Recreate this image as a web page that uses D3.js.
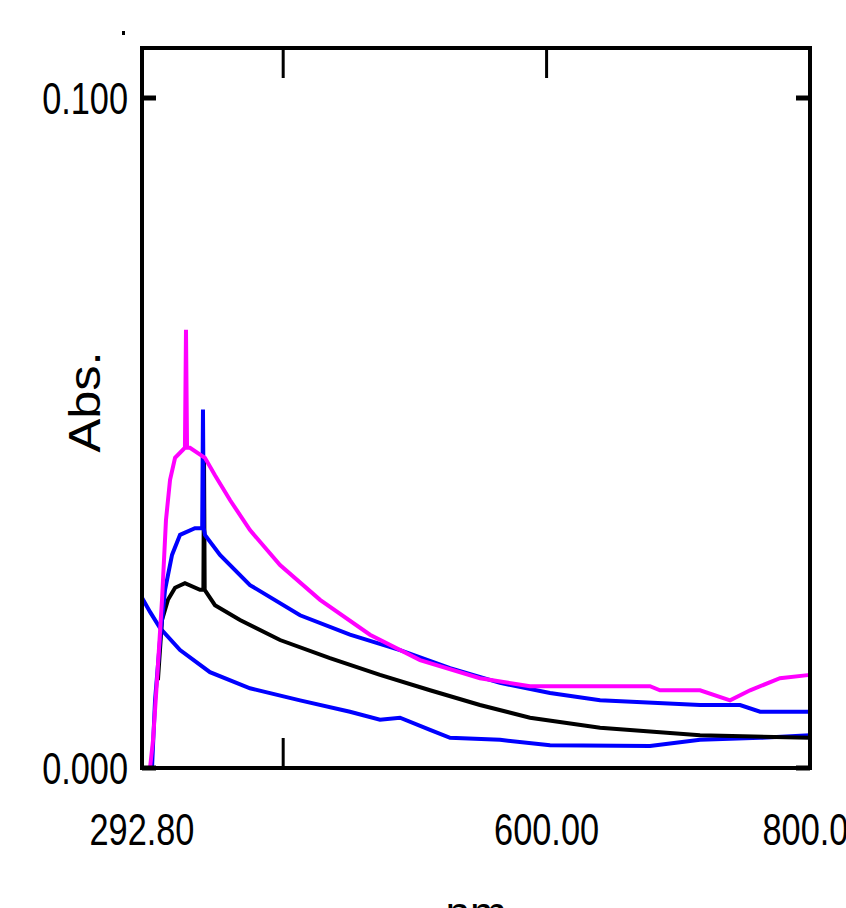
<!DOCTYPE html>
<html><head><meta charset="utf-8">
<script src="https://cdn.jsdelivr.net/npm/d3@7"></script>
<style>body{margin:0;background:#fff}text{font-family:"Liberation Sans",Arial,sans-serif}</style>
</head><body><div id="chart"></div>
<script>
var magentaNm = [298.9,301.2,304.2,308.0,311.0,314.1,317.9,323.9,325.4,326.2,327.0,329.2,340.6,348.2,359.6,374.8,397.6,428.0,465.9,503.9,549.4,587.4,640.6,678.5,686.1,716.5,739.3,754.5,777.2,800];
var magentaAbs = [0,.0042,.0131,.0251,.0370,.0430,.0463,.0475,.0478,.0654,.0478,.0478,.0463,.0437,.0400,.0355,.0303,.0251,.0199,.0161,.0134,.0122,.0122,.0122,.0116,.0116,.0101,.0116,.0134,.0139];
var blue1Nm = [300.4,302.7,306.5,310.3,315.6,321.7,333.0,338.5,339.1,339.7,340.6,352.0,374.8,412.8,450.7,488.7,526.7,564.6,602.6,640.6,716.5,746.9,762.1,800];
var blue1Abs = [0,.0101,.0191,.0266,.0318,.0348,.0358,.0358,.0535,.0358,.0348,.0318,.0273,.0228,.0199,.0176,.0149,.0127,.0112,.0101,.0094,.0094,.0084,.0084];
var blackNm = [304.9,308.0,312.5,317.9,325.4,336.8,339.4,339.9,340.4,348.2,367.2,397.6,435.5,473.5,511.5,549.4,587.4,640.6,716.5,800];
var blackAbs = [.0131,.0221,.0251,.0269,.0276,.0266,.0266,.0457,.0266,.0243,.0221,.0191,.0164,.0139,.0116,.0094,.0075,.0060,.0049,.0045];
var blue2Nm = [292.8,298.9,306.5,321.7,344.4,374.8,412.8,450.7,473.5,488.7,511.5,526.7,564.6,602.6,678.5,716.5,762.1,800];
var blue2Abs = [.0254,.0233,.0209,.0176,.0143,.0119,.0101,.0084,.0072,.0075,.0057,.0045,.0042,.0034,.0033,.0042,.0045,.0049];
var xTicks = [292.8, 600, 800];
var yTicks = [0, 0.1];

var W = 846, H = 908;
var svg = d3.select('#chart').append('svg').attr('width', W).attr('height', H);
var x = d3.scaleLinear().domain([292.8, 800]).range([142, 810]);
var y = d3.scaleLinear().domain([0, 0.1]).range([768, 98]);

var series = [
  {nm: blue2Nm, abs: blue2Abs, color: '#0000ff'},
  {nm: blackNm, abs: blackAbs, color: '#000000'},
  {nm: blue1Nm, abs: blue1Abs, color: '#0000ff'},
  {nm: magentaNm, abs: magentaAbs, color: '#ff00ff'}
];
var line = d3.line().x(d => x(d[0])).y(d => y(d[1]));
series.forEach(function(s) {
  svg.append('path')
    .datum(s.nm.map((v, i) => [v, s.abs[i]]))
    .attr('d', line)
    .attr('fill', 'none')
    .attr('stroke', s.color)
    .attr('stroke-width', 4);
});

// frame
svg.append('rect').attr('x', 142).attr('y', 48).attr('width', 668).attr('height', 720)
  .attr('fill', 'none').attr('stroke', '#000').attr('stroke-width', 4);

// inner ticks
[400, 600].forEach(function(v) {
  svg.append('line').attr('x1', x(v)).attr('x2', x(v)).attr('y1', 48).attr('y2', 78).attr('stroke', '#000').attr('stroke-width', 3);
});
svg.append('line').attr('x1', x(400)).attr('x2', x(400)).attr('y1', 738).attr('y2', 768).attr('stroke', '#000').attr('stroke-width', 3);
yTicks.forEach(function(v) {
  svg.append('line').attr('x1', 142).attr('x2', 156).attr('y1', y(v)).attr('y2', y(v)).attr('stroke', '#000').attr('stroke-width', 5);
  svg.append('line').attr('x1', 796).attr('x2', 810).attr('y1', y(v)).attr('y2', y(v)).attr('stroke', '#000').attr('stroke-width', 5);
  svg.append('text').attr('x', 128).attr('y', y(v) + 16).attr('text-anchor', 'end')
    .attr('font-size', 44).attr('transform', `translate(128,0) scale(0.78,1) translate(-128,0)`)
    .text(v.toFixed(3));
});
xTicks.forEach(function(v) {
  var px = x(v) + (v === 800 ? 5 : 0);
  svg.append('text').attr('x', px).attr('y', 845).attr('text-anchor', 'middle')
    .attr('font-size', 44).attr('transform', `translate(${px},0) scale(0.78,1) translate(${-px},0)`)
    .text(v.toFixed(2));
});
svg.append('text').attr('transform', 'translate(100,402) rotate(-90) scale(1.15,1)')
  .attr('text-anchor', 'middle').attr('font-size', 44).text('Abs.');
svg.append('text').attr('x', 476).attr('y', 928).attr('text-anchor', 'middle').attr('font-size', 44).text('nm');
svg.append('rect').attr('x', 122).attr('y', 31).attr('width', 3).attr('height', 4).attr('fill', '#000');
</script></body></html>
